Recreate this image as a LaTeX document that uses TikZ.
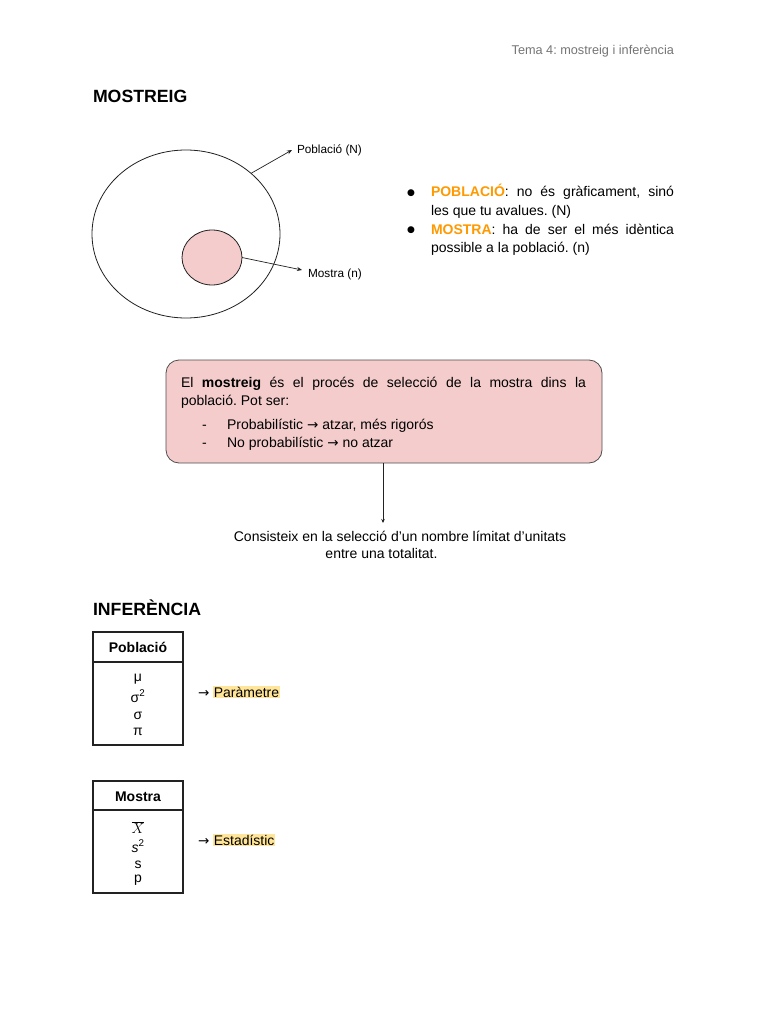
\documentclass[tikz,border=0pt]{standalone}
\usepackage{fontspec}
\setmainfont{Liberation Sans}
\newfontfamily\dejavu{DejaVu Sans}
\usetikzlibrary{arrows.meta,shapes.geometric}
\definecolor{pinkc}{HTML}{F4CCCC}
\definecolor{orangec}{HTML}{FF9900}
\definecolor{hlc}{HTML}{FFE599}
\definecolor{graytxt}{HTML}{757575}
\definecolor{linec}{HTML}{222222}
\newcommand{\rarr}{{\dejavu\fontsize{13.5}{16}\selectfont →}}
\frenchspacing
\begin{document}
\begin{tikzpicture}[x=1pt,y=-1pt,
  txt/.style={inner sep=0pt, outer sep=0pt, anchor=base west, font=\fontsize{14}{18}\selectfont\frenchspacing},
  ctxt/.style={txt, anchor=base},
  small/.style={txt, font=\fontsize{11.8}{14}\selectfont},
  heading/.style={txt, font=\fontsize{17.7}{20}\selectfont\bfseries},
  arr/.style={-{Stealth[length=5pt,width=4pt]}, line width=0.7pt, draw=linec},
  tabbox/.style={draw=linec, line width=1.2pt, minimum width=90pt, inner sep=0pt, outer sep=0pt},
  hl/.style={txt, fill=hlc, inner sep=0.6pt}
]
\useasboundingbox[fill=white] (0,0) rectangle (768,1024);

% header
\node[txt, anchor=base east, font=\fontsize{12.7}{15}\selectfont, text=graytxt] (hdr) at (674,55) {Tema 4: mostreig i inferència};

% MOSTREIG
\node[heading] (h1) at (93,103) {MOSTREIG};

% ellipses
\node[ellipse, draw=linec, line width=0.8pt, minimum width=188pt, minimum height=168pt, inner sep=0pt, outer sep=0pt] (pob) at (186,234) {};
\node[ellipse, draw=linec, line width=0.8pt, fill=pinkc, minimum width=60pt, minimum height=55pt, inner sep=0pt, outer sep=0pt] (mos) at (212,257.5) {};
\node[small] (lpob) at (297,154) {Població (N)};
\node[small] (lmos) at (308,277) {Mostra (n)};
\coordinate (epob) at (292,150);
\coordinate (emos) at (302,270);
\draw[arr] (pob.43) -- (epob);
\draw[arr] (mos.east) -- (emos);

% bullets
\node[txt, font=\fontsize{9}{10}\dejavu] (b1) at (407,196) {●};
\node[txt, font=\fontsize{9}{10}\dejavu] (b2) at (407,233) {●};
\node[txt] (t1) at (431,197) {\makebox[243pt][s]{\textcolor{orangec}{\textbf{POBLACIÓ}}: no és gràficament, sinó}};
\node[txt] (t2) at (431,215) {les que tu avalues. (N)};
\node[txt] (t3) at (431,234) {\makebox[243pt][s]{\textcolor{orangec}{\textbf{MOSTRA}}: ha de ser el més idèntica}};
\node[txt] (t4) at (431,252) {possible a la població. (n)};

% pink box
\node[draw=linec!80, line width=0.8pt, fill=pinkc, rounded corners=13pt, minimum width=436pt, minimum height=103pt, inner sep=0pt, outer sep=0pt] (box) at (384,411.5) {};
\node[txt] (p1) at (181,387) {\makebox[405pt][s]{El \textbf{mostreig} és el procés de selecció de la mostra dins la}};
\node[txt] (p2) at (181,405) {població. Pot ser:};
\node[txt] (d1) at (202,429) {-};
\node[txt] (d2) at (202,447) {-};
\node[txt] (i1) at (227,429) {Probabilístic \rarr\ atzar, més rigorós};
\node[txt] (i2) at (227,447) {No probabilístic \rarr\ no atzar};

% arrow down
\coordinate (cons) at (383,523);
\draw[arr, line width=0.8pt, -{Stealth[length=4pt,width=3.5pt]}] (box.south -| cons) -- (cons);
\node[ctxt] (c1) at (400,541) {Consisteix en la selecció d’un nombre límitat d’unitats};
\node[ctxt] (c2) at (381.5,558) {entre una totalitat.};

% INFERENCIA
\node[heading] (h2) at (93,615) {INFERÈNCIA};

% Poblacio table
\node[tabbox, minimum height=30pt, anchor=north west] (tp) at (93,632) {};
\node[tabbox, minimum height=83pt, anchor=north west] (tpb) at (tp.south west) {};
\node[ctxt, font=\fontsize{14}{18}\selectfont\bfseries] (tph) at (138,652) {Població};
\node[ctxt] (g1) at (138,681) {μ};
\node[ctxt] (g2) at (138,702) {σ\textsuperscript{2}};
\node[ctxt] (g3) at (138,719) {σ};
\node[ctxt] (g4) at (138,735) {π};
\node[txt] (par) at (198,697) {\rarr\ \tikz[baseline=(w.base)]\node[hl] (w) {Paràmetre};};

% Mostra table
\node[tabbox, minimum height=29pt, anchor=north west] (tm) at (93,781) {};
\node[tabbox, minimum height=83pt, anchor=north west] (tmb) at (tm.south west) {};
\node[ctxt, font=\fontsize{14}{18}\selectfont\bfseries] (tmh) at (138,801) {Mostra};
\node[ctxt] (m1) at (138,833) {$\overline{X}$};
\node[ctxt] (m2) at (138,852) {\textit{s}\textsuperscript{2}};
\node[ctxt] (m3) at (138,868) {s};
\node[ctxt] (m4) at (138,882) {p};
\node[txt] (est) at (198,845) {\rarr\ \tikz[baseline=(w.base)]\node[hl] (w) {Estadístic};};
\end{tikzpicture}
\end{document}
